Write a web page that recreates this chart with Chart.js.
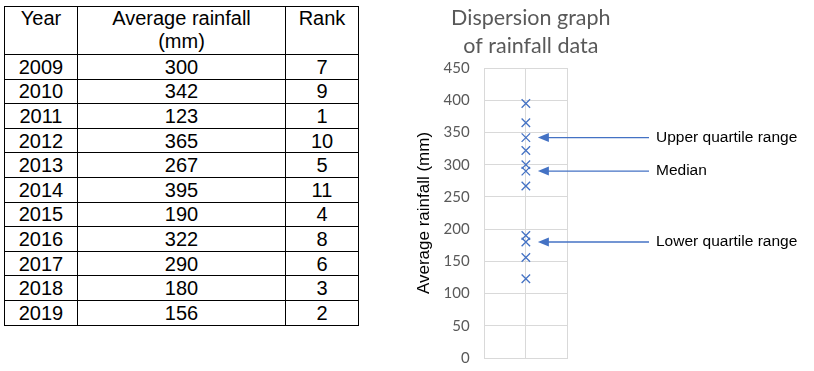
<!DOCTYPE html>
<html>
<head>
<meta charset="utf-8">
<title>Rainfall dispersion</title>
<script src="https://cdn.jsdelivr.net/npm/chart.js@4.4.0/dist/chart.umd.min.js"></script>
<style>
    body { margin: 0; width: 814px; height: 371px; overflow: hidden; position: relative; background: #fff; font-family: "Liberation Sans", Arial, sans-serif; }
    #rainTable { position: absolute; left: 4px; top: 6px; border-collapse: collapse; table-layout: fixed; font-size: 20px; color: #000; }
    #rainTable th, #rainTable td { border: 1.3px solid #000; padding: 0; text-align: center; font-weight: normal; }
    #rainTable th { height: 47px; vertical-align: top; line-height: 23px; }
    #rainTable td { height: 23.6px; line-height: 22px; }
    /* a caixa passa um pouco da janela para que o eixo desça até o 0 da referência */
    #chartBox { position: absolute; left: 400px; top: 0; width: 414px; height: 382px; }
</style>
</head>
<body>
<table id="rainTable">
    <colgroup><col style="width:73px"><col style="width:208px"><col style="width:73px"></colgroup>
    <thead><tr id="headRow"></tr></thead>
    <tbody id="tableBody"></tbody>
</table>
<div id="chartBox"><canvas id="dispersionChart"></canvas></div>
<script>
// Dados da tabela e do gráfico
const years = [2009, 2010, 2011, 2012, 2013, 2014, 2015, 2016, 2017, 2018, 2019];
const rainfall = [300, 342, 123, 365, 267, 395, 190, 322, 290, 180, 156];
const ranks = [7, 9, 1, 10, 5, 11, 4, 8, 6, 3, 2];
const tableHeaders = [['Year'], ['Average rainfall', '(mm)'], ['Rank']];

const chartTitle = ['Dispersion graph', 'of rainfall data'];
const yAxisTitle = 'Average rainfall (mm)';
const yMin = 0;
const yMax = 450;
const yStep = 50;

const markerLabels = ['Upper quartile range', 'Median', 'Lower quartile range'];
const markerValues = [342, 290, 180];

const blue = '#4472C4';
const gridGrey = '#d9d9d9';

function buildTable() {
    const headRow = document.querySelector('#headRow');
    tableHeaders.forEach(lines => {
        const th = document.createElement('th');
        lines.forEach((line, i) => {
            if (i > 0) th.appendChild(document.createElement('br'));
            th.appendChild(document.createTextNode(line));
        });
        headRow.appendChild(th);
    });

    const body = document.querySelector('#tableBody');
    years.forEach((year, i) => {
        const tr = document.createElement('tr');
        [year, rainfall[i], ranks[i]].forEach(value => {
            const td = document.createElement('td');
            td.textContent = value;
            tr.appendChild(td);
        });
        body.appendChild(tr);
    });
}

// Título, setas e rótulos desenhados por cima do gráfico
const rainfallOverlay = {
    id: 'rainfallOverlay',
    afterDraw(chart) {
        const ctx = chart.ctx;
        const area = chart.chartArea;
        const xScale = chart.scales.x;
        const yScale = chart.scales.y;

        ctx.save();
        ctx.fillStyle = '#595959';
        ctx.font = '21.5px Lato';
        ctx.textAlign = 'center';
        ctx.textBaseline = 'alphabetic';
        const cx = (area.left + area.right) / 2 + 5;
        chartTitle.forEach((line, i) => ctx.fillText(line, cx, area.top - 43 + i * 28));

        const tipX = xScale.getPixelForValue(1) + 12;
        const lineEnd = area.right + 82;
        ctx.font = '15.5px "Liberation Sans"';
        ctx.textAlign = 'left';
        ctx.textBaseline = 'middle';
        markerValues.forEach((value, i) => {
            const y = yScale.getPixelForValue(value);
            ctx.strokeStyle = blue;
            ctx.fillStyle = blue;
            ctx.lineWidth = 1.3;
            ctx.beginPath();
            ctx.moveTo(tipX + 10, y);
            ctx.lineTo(lineEnd, y);
            ctx.stroke();
            ctx.beginPath();
            ctx.moveTo(tipX, y);
            ctx.lineTo(tipX + 11, y - 4.5);
            ctx.lineTo(tipX + 11, y + 4.5);
            ctx.closePath();
            ctx.fill();

            ctx.fillStyle = '#000';
            ctx.fillText(markerLabels[i], lineEnd + 7, y);
        });
        ctx.restore();
    }
};

function createDispersionChart() {
    const ctx = document.querySelector('#dispersionChart').getContext('2d');

    const dispersionChart = new Chart(ctx, {
        type: 'scatter',
        data: {
            datasets: [{
                label: 'Average rainfall',
                data: rainfall.map(value => ({ x: 1, y: value })),
                pointStyle: 'crossRot',
                radius: 6,
                borderColor: blue,
                backgroundColor: blue,
                borderWidth: 1.3,
            }],
        },
        options: {
            responsive: true,
            maintainAspectRatio: false,
            animation: false,
            layout: { padding: { left: 10, right: 247, top: 68, bottom: 2 } },
            plugins: {
                legend: { display: false },
                tooltip: { enabled: false },
            },
            scales: {
                x: {
                    type: 'linear',
                    min: 0,
                    max: 2,
                    ticks: { display: false, stepSize: 1 },
                    grid: { color: gridGrey, drawTicks: false },
                    border: { color: gridGrey },
                    afterFit(scale) {
                        scale.height = 0;
                    },
                },
                y: {
                    min: yMin,
                    max: yMax,
                    ticks: {
                        stepSize: yStep,
                        color: '#595959',
                        font: { family: 'Lato', size: 15 },
                        padding: 15,
                    },
                    grid: { color: gridGrey, drawTicks: false },
                    border: { color: gridGrey },
                    title: {
                        display: true,
                        text: yAxisTitle,
                        color: '#000',
                        font: { family: 'Liberation Sans', size: 17 },
                        padding: { top: 4, bottom: 0 },
                    },
                    afterFit(scale) {
                        scale.width = 74.7;
                    },
                },
            },
        },
        plugins: [rainfallOverlay],
    });
}

buildTable();
createDispersionChart();
</script>
</body>
</html>
